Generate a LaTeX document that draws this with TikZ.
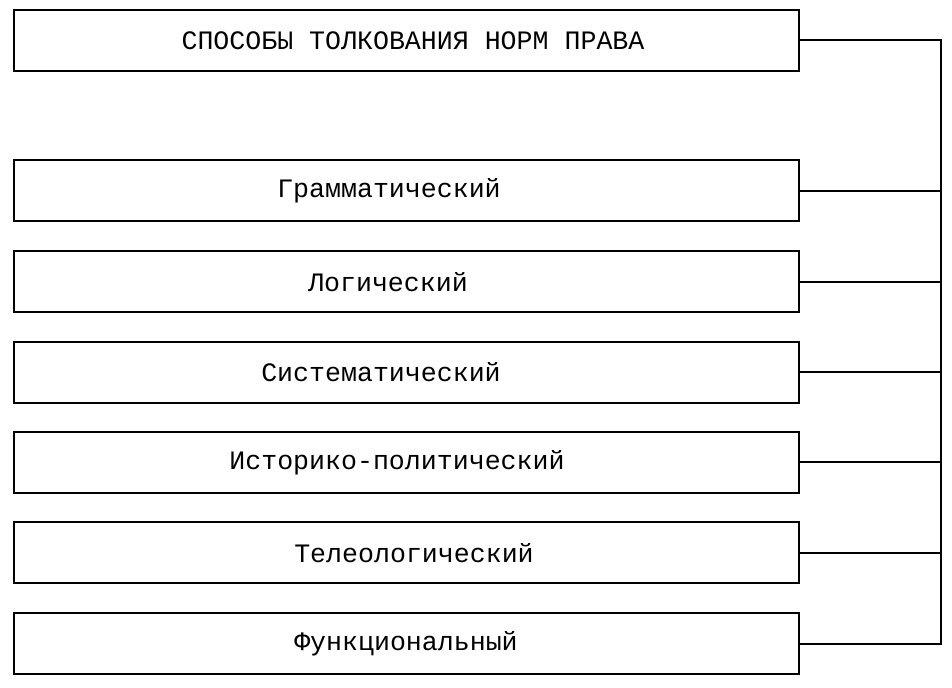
\documentclass[tikz,border=0pt]{standalone}
\usepackage{fontspec}
\setmonofont{Liberation Mono}
\begin{document}
\begin{tikzpicture}[x=0.5pt,y=-0.5pt,
  box/.style={draw=black,line width=1pt,minimum width=392.5pt,minimum height=30.5pt,inner sep=0pt,fill=white},
  lbl/.style={font=\ttfamily\fontsize{13.3}{15}\selectfont,inner sep=0pt,anchor=center},
  conn/.style={draw=black,line width=1pt}]
\useasboundingbox[fill=white] (0,0) rectangle (952,688);
\node[box] (b0) at (406.5,40.5) {};
\node[box] (b1) at (406.5,191) {};
\node[box] (b2) at (406.5,282) {};
\node[box] (b3) at (406.5,372.5) {};
\node[box] (b4) at (406.5,462.5) {};
\node[box] (b5) at (406.5,553) {};
\node[box] (b6) at (406.5,643.5) {};
\node[lbl] (t0) at (413,40.5) {СПОСОБЫ ТОЛКОВАНИЯ НОРМ ПРАВА};
\node[lbl] (t1) at (389,191) {Грамматический};
\node[lbl] (t2) at (388,282) {Логический};
\node[lbl] (t3) at (381,372.5) {Систематический};
\node[lbl] (t4) at (397,462.5) {Историко-политический};
\node[lbl] (t5) at (414,553) {Телеологический};
\node[lbl] (t6) at (406,643.5) {Функциональный};
\coordinate (c0) at (941,40.5);
\coordinate (c1) at (941,191);
\coordinate (c2) at (941,282);
\coordinate (c3) at (941,372.5);
\coordinate (c4) at (941,462.5);
\coordinate (c5) at (941,553);
\coordinate (c6) at (941,643.5);
\draw[conn] (b0.east) -- (c0);
\draw[conn] (b1.east) -- (c1);
\draw[conn] (b2.east) -- (c2);
\draw[conn] (b3.east) -- (c3);
\draw[conn] (b4.east) -- (c4);
\draw[conn] (b5.east) -- (c5);
\draw[conn] (b6.east) -- (c6);
\draw[conn,line cap=rect] (c0) -- (c6);
\end{tikzpicture}
\end{document}
